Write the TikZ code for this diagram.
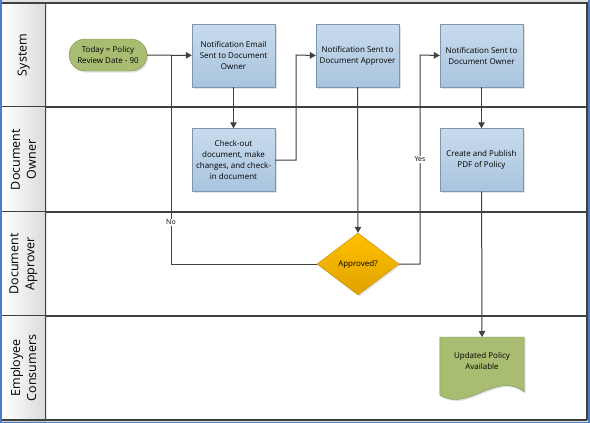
\documentclass[tikz,border=0pt]{standalone}
\usepackage{fontspec}
\setmainfont{Open Sans}
\usetikzlibrary{arrows.meta,shapes.geometric,shapes.misc,shadows,calc}
\definecolor{laneline}{HTML}{404040}
\definecolor{frameblue}{HTML}{4A7CCC}
\definecolor{boxtop}{HTML}{C8DBEC}
\definecolor{boxbot}{HTML}{A8C4DE}
\definecolor{boxline}{HTML}{7C96B0}
\definecolor{greenfill}{HTML}{A9BD72}
\definecolor{greenline}{HTML}{7F904F}
\definecolor{goldtop}{HTML}{FFC000}
\definecolor{goldbot}{HTML}{E0A200}
\definecolor{goldline}{HTML}{C08C00}
\begin{document}
\begin{tikzpicture}[x=1pt, y=-1pt,
				font=\fontsize{8}{11}\selectfont,
				shade/.style={drop shadow={shadow xshift=1.5pt, shadow yshift=-1.5pt, opacity=0.22}},
				task/.style={rectangle, draw=boxline, top color=boxtop, bottom color=boxbot, shade, minimum width=83pt, minimum height=63pt, align=center, inner sep=2pt},
				start/.style={rounded rectangle, draw=greenline, fill=greenfill, shade, minimum width=82pt, minimum height=32pt, align=center, inner sep=2pt},
				decision/.style={diamond, draw=goldline, top color=goldtop, bottom color=goldbot, shade, minimum width=82pt, minimum height=62pt, inner sep=0pt, aspect=1.32},
				flow/.style={draw=laneline, line width=1pt, -{Triangle[length=6pt, width=6.5pt]}},
				joinline/.style={draw=laneline, line width=1pt},
				tag/.style={fill=white, inner sep=1pt, font=\fontsize{7}{8}\selectfont},
				lanename/.style={rotate=90, align=center, font=\fontsize{12.5}{16}\selectfont}
				]
				\useasboundingbox (0,0) rectangle (590,423);
				% frame and lanes
				\fill[white] (0,0) rectangle (590,423);
				\fill[black!12] (0,0) rectangle (590,3);
				\fill[black!12] (586,3) rectangle (588,423);
				\fill[black!12] (0,420) rectangle (590,422);
				\foreach \ytop/\ybot/\who in {3/107/System, 107/212/{Document\\Owner}, 212/316/{Document\\Approver}, 316/420/{Employee\\Consumers}}{
					\shade[left color=white, right color=black!14] (2,\ytop) rectangle (45,\ybot);
					\node[lanename] at (23.5,{(\ytop+\ybot)/2}) {\who};
					\draw[laneline, line width=1.2pt] (2,\ybot) -- (587,\ybot);
				}
				\draw[laneline, line width=1.2pt] (2,3) -- (587,3) -- (587,420);
				\draw[laneline, line width=1pt] (45,3) -- (45,420);
				\fill[frameblue] (0,0) rectangle (1.8,423);
				\fill[frameblue] (588,0) rectangle (590,423);
				\fill[frameblue] (0,422) rectangle (590,423);
				% steps
				\node[start] (today) at (108,55) {Today = Policy\\Review Date - 90};
				\node[task] (mailowner) at (233.5,55.5) {Notification Email\\Sent to Document\\Owner};
				\node[task] (checkout) at (233.5,160) {Check-out\\document, make\\changes, and check-\\in document};
				\node[task] (toapprover) at (357.5,55.5) {Notification Sent to\\Document Approver};
				\node[task] (toowner) at (481.5,55.5) {Notification Sent to\\Document Owner};
				\node[task] (publish) at (481.5,160) {Create and Publish\\PDF of Policy};
				\node[decision] (approved) at (358,264) {Approved?};
				\node[anchor=north, minimum width=84pt, inner ysep=15pt, align=center] (updated) at (482,337) {Updated Policy\\Available};
				\fill[greenfill, draw=greenline, shade] (updated.north west) -- (updated.north east) -- ($(updated.north east)+(0,55)$)
					.. controls ($(updated.north east)+(-28,33)$) and ($(updated.north west)+(28,76)$) .. ($(updated.north west)+(0,58)$) -- cycle;
				\node[align=center] at (updated) {Updated Policy\\Available};
				% bends
				\coordinate (nojoin) at (171,55);
				\coordinate (editbend) at (296,55);
				\coordinate (yesbend) at (420,55);
				% connectors
				\draw[flow] (today) -- (mailowner);
				\draw[joinline] (approved.west) -| node[tag, pos=0.6] {No} (nojoin);
				\draw[flow] (mailowner) -- (checkout);
				\draw[flow] (checkout.east) -| (editbend) -- (toapprover.west);
				\draw[flow] (toapprover.south) -- (approved.north);
				\draw[flow] (approved.east) -| node[tag, pos=0.75] {Yes} (yesbend) -- (toowner.west);
				\draw[flow] (toowner) -- (publish);
				\draw[flow] (publish) -- (updated.north);
			\end{tikzpicture}
\end{document}
